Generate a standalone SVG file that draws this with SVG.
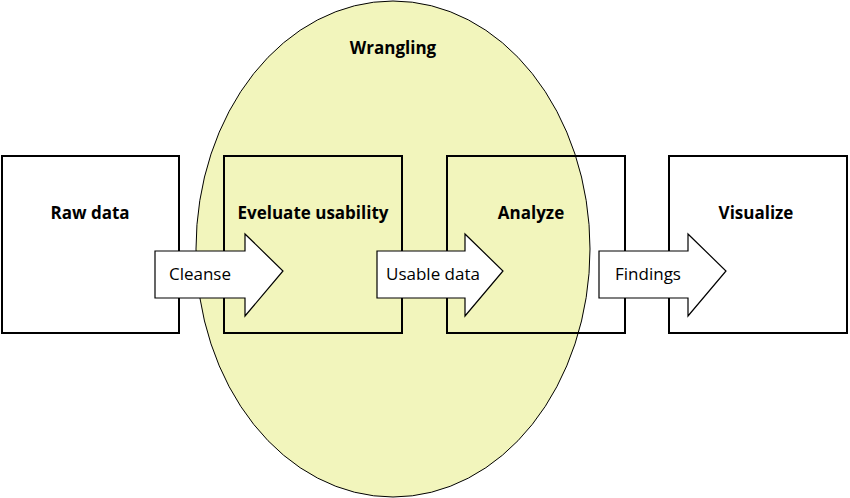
<svg xmlns="http://www.w3.org/2000/svg" width="850" height="498" viewBox="0 0 850 498">
<style>
.box{fill:none;stroke:#000;stroke-width:2}
.arr{fill:#fff;stroke:#000;stroke-width:1.2}
.t{font-family:"Open Sans",sans-serif;font-size:17px;font-weight:bold;text-anchor:middle}
.l{font-family:"Open Sans",sans-serif;font-size:17px;text-anchor:middle}
</style>
<rect width="850" height="498" fill="#fff"/>
<g id="wrangling">
<ellipse cx="393" cy="249" rx="197" ry="248" fill="#f2f5bc" stroke="#000" stroke-width="1"/>
<text class="t" x="393" y="54">Wrangling</text>
</g>
<g id="raw"><rect class="box" x="2" y="156" width="177" height="177"/><text class="t" x="90" y="219">Raw data</text></g>
<g id="evaluate"><rect class="box" x="224" y="156" width="178" height="177"/><text class="t" x="313" y="219">Eveluate usability</text></g>
<g id="analyze"><rect class="box" x="447" y="156" width="178" height="177"/><text class="t" x="531" y="219">Analyze</text></g>
<g id="visualize"><rect class="box" x="669" y="156" width="178" height="177"/><text class="t" x="756" y="219">Visualize</text></g>
<g id="connectors">
<path class="arr" d="M155,251 H245 V234 L283,271 L245,316 V298 H155 Z"/>
<text class="l" x="200" y="280">Cleanse</text>
<path class="arr" d="M377,251 H465 V234 L503,271 L465,316 V298 H377 Z"/>
<text class="l" x="433" y="280">Usable data</text>
<path class="arr" d="M599,251 H688 V234 L726,271 L688,316 V298 H599 Z"/>
<text class="l" x="648" y="280">Findings</text>
</g>
</svg>
